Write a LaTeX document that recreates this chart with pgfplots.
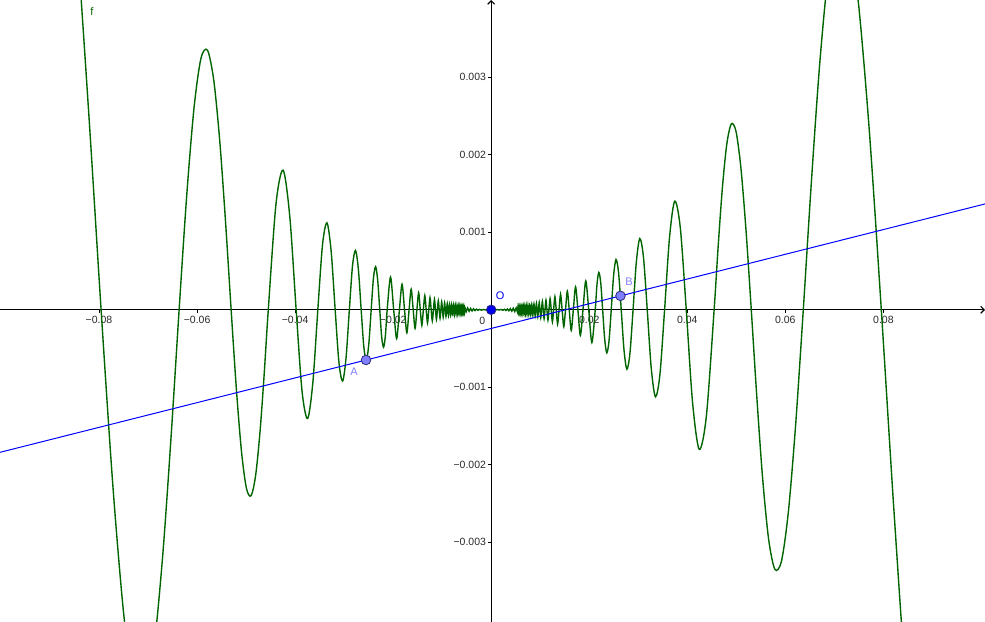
\documentclass[border=0pt]{standalone}
\usepackage{pgfplots}
\pgfplotsset{compat=1.18}
\usepackage{pgfplotstable}
\usepackage{fontspec}
\setmainfont{Liberation Sans}
\usetikzlibrary{arrows.meta}
\definecolor{fgreen}{HTML}{006400}
\definecolor{lblue}{HTML}{0000FF}
\definecolor{ptAB}{HTML}{7F7FFF}
\definecolor{ptedge}{HTML}{2A2A7A}
\definecolor{ptO}{HTML}{0000EE}
\definecolor{tickgray}{HTML}{2A2A2A}

\pgfplotstableread{
x y
0.106103 0
0.101859 -0.0039704
0.097942 -0.006783
0.094314 -0.008218
0.090946 -0.008271
0.087810 -0.007124
0.084883 -0.005095
0.082144 -0.002582
0.079577 0
0.077166 0.002279
0.074896 0.003967
0.072757 0.004891
0.070736 0.0050035
0.068824 0.004376
0.067013 0.003175
0.065294 0.0016315
0.063662 0
0.062109 -0.0014762
0.060630 -0.0025994
0.059220 -0.0032401
0.057875 -0.0033495
0.056588 -0.0029585
0.055358 -0.0021669
0.054180 -0.0011234
0.053052 0
0.051969 0.0010335
0.050930 0.0018341
0.049931 0.0023033
0.048971 0.0023981
0.048047 0.0021328
0.047157 0.0015725
0.046300 0.0008203
0.045473 0
0.043905 -0.001363
0.042441 -0.0018013
0.041072 -0.0011928
0.039789 0
0.038583 0.0010527
0.037448 0.0014024
0.036378 0.0009358
0.035368 0
0.034412 -0.0008374
0.033506 -0.0011227
0.032647 -0.0007537
0.031831 0
0.031055 0.00068193
0.030315 0.00091901
0.029610 0.00061997
0.028937 0
0.028294 -0.00056608
0.027679 -0.00076613
0.027090 -0.00051893
0.026526 0
0.025984 0.00047744
0.025465 0.00064846
0.024966 0.00044073
0.024485 0
0.024023 -0.00040809
0.023578 -0.00055595
0.023150 -0.00037896
0.022736 0
0.022338 0.00035283
0.021952 0.00048191
0.021580 0.00032931
0.021221 0
0.020536 -0.00042173
0.019894 0
0.019291 0.00037216
0.018724 0
0.018189 -0.00033085
0.017684 0
0.017206 0.00029605
0.016753 0
0.016324 -0.00026646
0.015915 0
0.015527 0.00024110
0.015158 0
0.014805 -0.00021919
0.014469 0
0.014147 0.00020014
0.013840 0
0.013545 -0.00018347
0.013263 0
0.012992 0.00016880
0.012732 0
0.012483 -0.00015582
0.012243 0
0.012012 0.00014428
0.011789 0
0.011575 -0.00013398
0.011368 0
0.011169 0.00012474
0.010976 0
0.010790 -0.00011643
0.010610 0
0.010436 0.00010892
0.010268 0
0.010105 -0.00010211
0.0099472 0
0.0097942 0.000095926
0.0096458 0
0.0095018 -0.000090284
0.0093621 0
0.0092264 0.000085126
0.0090946 0
0.0089665 -0.000080398
0.0088419 0
0.0087208 0.000076052
0.0086030 0
0.0084883 -0.000072051
0.0083766 0
0.0082678 0.000068356
0.0081618 0
0.0080585 -0.000064939
0.0079578 0
0.0078595 0.000061772
0.0076701 -0.000058831
0.0074896 0.000056095
0.0073175 -0.000053545
0.0071530 0.000051166
0.0069958 -0.000048941
0.0068454 0.000046859
0.0067013 -0.000044907
0.0065631 0.000043074
0.0064305 -0.000041351
0.0063032 0.000039730
0.0061808 -0.000038202
0.0060630 0.000036761
0.0059497 -0.000035399
0.0058406 0.000034112
0.0057353 -0.000032894
0.0056338 0.000031740
0.0055358 -0.000030645
0.0054412 0.000029606
0.0053497 -0.000028620
0.0051 0.000026
0.0048 -0.000023
0.0045 0.0000203
0.0042 -0.0000176
0.0039 0.0000152
0.0036 -0.000013
0.0033 0.0000109
0.0030 -0.000009
0.0027 0.0000073
0.0024 -0.0000058
0.0020 0.000004
0.0016 -0.0000026
0.0012 0.0000014
0 0
}\fpos

\begin{document}
\begin{tikzpicture}
\begin{axis}[
  scale only axis, width=985bp, height=622bp,
  xmin=-0.10020, xmax=0.10073, ymin=-0.0040284, ymax=0.0039974,
  axis lines=middle,
  xlabel={}, ylabel={},
  axis line style={line width=1.1bp, -{Straight Barb[length=3.5bp,width=7bp]}},
  xtick={-0.08,-0.06,-0.04,-0.02,0.02,0.04,0.06,0.08},
  xticklabels={−0.08,−0.06,−0.04,−0.02,0.02,0.04,0.06,0.08},
  ytick={-0.003,-0.002,-0.001,0.001,0.002,0.003},
  yticklabels={−0.003,−0.002,−0.001,0.001,0.002,0.003},
  tick style={black, line width=0.8bp},
  major tick length=3bp,
  tick align=outside,
  xticklabel style={font=\fontsize{10.5bp}{12bp}\selectfont, text=tickgray, anchor=north, inner sep=0pt, yshift=-3bp},
  yticklabel style={font=\fontsize{10.5bp}{12bp}\selectfont, text=tickgray, anchor=east, inner sep=0pt, xshift=-2bp},
  clip=true,
]
\coordinate (SW) at (rel axis cs:0,0);
\coordinate (NE) at (rel axis cs:1,1);
\addplot[fgreen, line width=1.4bp, smooth, no marks] table[x=x, y=y] {\fpos};
\addplot[fgreen, line width=1.4bp, smooth, no marks] table[x expr=-\thisrow{x}, y expr=-\thisrow{y}] {\fpos};
\addplot[lblue, line width=1bp, no marks] coordinates {(-0.1005,-0.001844) (0.1010,0.001370)};
\addplot[only marks, mark=*, mark size=4.8bp, mark options={fill=ptAB, draw=ptedge, line width=0.8bp}] coordinates {(-0.02554,-0.000648) (0.02637,0.00018)};
\addplot[only marks, mark=*, mark size=4.8bp, mark options={fill=ptO, draw=ptedge, line width=0.8bp}] coordinates {(0,0)};
\node[text=ptAB, font=\fontsize{11bp}{13bp}\selectfont] at (axis cs:-0.02799,-0.000803) {A};
\node[text=ptAB, font=\fontsize{11bp}{13bp}\selectfont] at (axis cs:0.02811,0.000359) {B};
\node[text=ptO, font=\fontsize{11bp}{13bp}\selectfont] at (axis cs:0.0018,0.000178) {O};
\node[text=tickgray, font=\fontsize{10.5bp}{12bp}\selectfont] at (axis cs:-0.00182,-0.000141) {0};
\node[text=fgreen, font=\fontsize{11bp}{13bp}\selectfont] at (axis cs:-0.08144,0.003855) {f};
\end{axis}
\pgfresetboundingbox
\path[use as bounding box] (SW) rectangle (NE);
\end{tikzpicture}
\end{document}
